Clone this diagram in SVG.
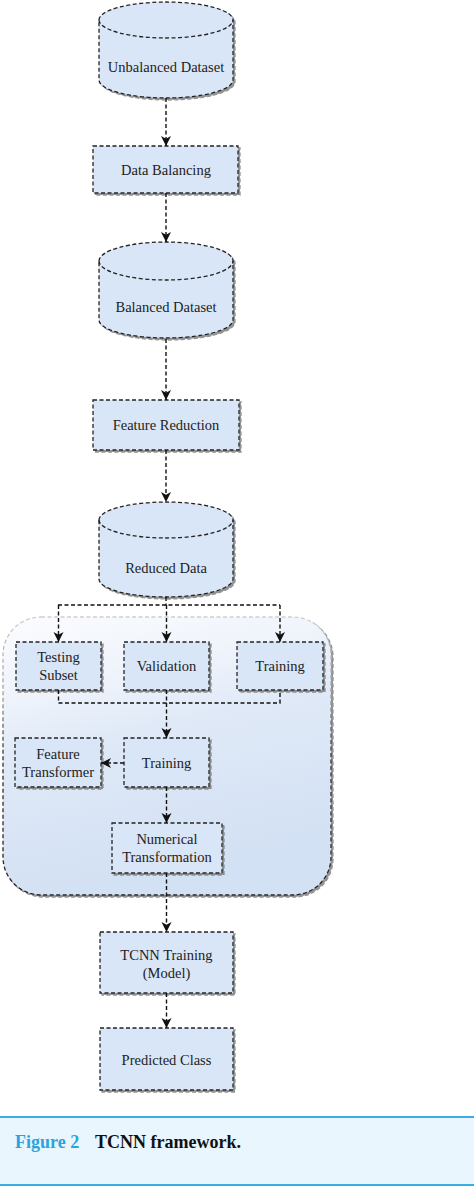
<svg xmlns="http://www.w3.org/2000/svg" width="474" height="1187" viewBox="0 0 474 1187">
<style>
.node{fill:#d9e6f7;stroke:#222;stroke-width:1.3;stroke-dasharray:4 2.5;filter:url(#sh)}
.lbl{font-family:"Liberation Serif","Times New Roman",serif;font-size:14.5px;fill:#222;text-anchor:middle}
.con{fill:none;stroke:#111;stroke-width:1.4;stroke-dasharray:4 2.5}
.arr{marker-end:url(#ah)}
</style>
<defs>
<marker id="ah" markerWidth="11" markerHeight="11" refX="10" refY="5.5" orient="auto" markerUnits="userSpaceOnUse">
<path d="M0,0.5 L10,5.5 L0,10.5 L2.8,5.5 Z" fill="#111"/>
</marker>
<filter id="sh" x="-10%" y="-10%" width="130%" height="130%">
<feDropShadow dx="2" dy="2" stdDeviation="0.7" flood-color="#777" flood-opacity="0.8"/>
</filter>
<linearGradient id="cf" x1="0" y1="617" x2="60" y2="895" gradientUnits="userSpaceOnUse">
<stop offset="0" stop-color="#fbfcfe"/>
<stop offset="0.3" stop-color="#eef3fb"/>
<stop offset="0.5" stop-color="#dfe9f7"/>
<stop offset="1" stop-color="#d3e1f4"/>
</linearGradient>
<linearGradient id="cs" x1="0" y1="617" x2="0" y2="895" gradientUnits="userSpaceOnUse">
<stop offset="0" stop-color="#cfcfcf"/>
<stop offset="0.3" stop-color="#999"/>
<stop offset="0.5" stop-color="#333"/>
<stop offset="1" stop-color="#222"/>
</linearGradient>
</defs>

<g id="container">
<rect x="3" y="617" width="328" height="278" rx="38" ry="38" fill="url(#cf)" stroke="url(#cs)" stroke-width="1.3" stroke-dasharray="4 2.5" filter="url(#sh)"/>
</g>

<g id="unbalanced-dataset">
<path class="node" d="M99,20 A67,18 0 0,1 233,20 L233,80 A67,18 0 0,1 99,80 Z"/>
<path d="M99,20 A67,18 0 0,0 233,20" fill="none" stroke="#222" stroke-width="1.3" stroke-dasharray="4 2.5"/>
<text class="lbl" x="166" y="72">Unbalanced Dataset</text>
</g>

<g id="data-balancing">
<rect class="node" x="93" y="146" width="145" height="47"/>
<text class="lbl" x="166" y="175">Data Balancing</text>
</g>

<g id="balanced-dataset">
<path class="node" d="M99,261 A67,19 0 0,1 233,261 L233,320 A67,18 0 0,1 99,320 Z"/>
<path d="M99,261 A67,19 0 0,0 233,261" fill="none" stroke="#222" stroke-width="1.3" stroke-dasharray="4 2.5"/>
<text class="lbl" x="166" y="312">Balanced Dataset</text>
</g>

<g id="feature-reduction">
<rect class="node" x="93" y="400" width="146" height="50"/>
<text class="lbl" x="166" y="430">Feature Reduction</text>
</g>

<g id="reduced-data">
<path class="node" d="M99,520 A67,18 0 0,1 233,520 L233,579 A67,18 0 0,1 99,579 Z"/>
<path d="M99,520 A67,18 0 0,0 233,520" fill="none" stroke="#222" stroke-width="1.3" stroke-dasharray="4 2.5"/>
<text class="lbl" x="166" y="573">Reduced Data</text>
</g>

<g id="testing-subset">
<rect class="node" x="16" y="642" width="85" height="48"/>
<text class="lbl" x="58.5" y="662">Testing</text>
<text class="lbl" x="58.5" y="680">Subset</text>
</g>

<g id="validation">
<rect class="node" x="124" y="642" width="85" height="48"/>
<text class="lbl" x="166.5" y="671">Validation</text>
</g>

<g id="training-subset">
<rect class="node" x="237" y="642" width="86" height="48"/>
<text class="lbl" x="280" y="671">Training</text>
</g>

<g id="feature-transformer">
<rect class="node" x="15" y="738" width="86" height="49"/>
<text class="lbl" x="58" y="759">Feature</text>
<text class="lbl" x="58" y="777">Transformer</text>
</g>

<g id="training">
<rect class="node" x="124" y="738" width="85" height="49"/>
<text class="lbl" x="166.5" y="768">Training</text>
</g>

<g id="numerical-transformation">
<rect class="node" x="112" y="823" width="110" height="50"/>
<text class="lbl" x="167" y="844">Numerical</text>
<text class="lbl" x="167" y="862">Transformation</text>
</g>

<g id="tcnn-training">
<rect class="node" x="100" y="932" width="133" height="61"/>
<text class="lbl" x="166.5" y="960">TCNN Training</text>
<text class="lbl" x="166.5" y="978">(Model)</text>
</g>

<g id="predicted-class">
<rect class="node" x="100" y="1028" width="133" height="62"/>
<text class="lbl" x="166.5" y="1065">Predicted Class</text>
</g>

<g id="connectors">
<path class="con arr" d="M166,98 L166,146"/>
<path class="con arr" d="M166,193 L166,242"/>
<path class="con arr" d="M166,339 L166,400"/>
<path class="con arr" d="M166,450 L166,502"/>
<path class="con" d="M166,597 L166,605 M58,605 L280,605"/>
<path class="con arr" d="M58.5,605 L58.5,642"/>
<path class="con arr" d="M166.5,605 L166.5,642"/>
<path class="con arr" d="M280,605 L280,642"/>
<path class="con" d="M58.5,690 L58.5,703 L280,703 L280,690"/>
<path class="con arr" d="M166.5,690 L166.5,738"/>
<path class="con arr" d="M124,763 L101,763"/>
<path class="con arr" d="M166.5,787 L166.5,823"/>
<path class="con arr" d="M166.5,873 L166.5,932"/>
<path class="con arr" d="M166.5,993 L166.5,1028"/>
</g>

<g id="caption">
<rect x="0" y="1117" width="474" height="68" fill="#e9f6fd"/>
<line x1="0" y1="1117" x2="474" y2="1117" stroke="#3aaee2" stroke-width="2"/>
<line x1="0" y1="1185" x2="474" y2="1185" stroke="#3aaee2" stroke-width="2"/>
<text x="15" y="1148" font-family="Liberation Serif, serif" font-size="18" font-weight="bold" fill="#2aa3e0">Figure 2</text>
<text x="95" y="1148" font-family="Liberation Serif, serif" font-size="18" font-weight="bold" fill="#111">TCNN framework.</text>
</g>
</svg>
